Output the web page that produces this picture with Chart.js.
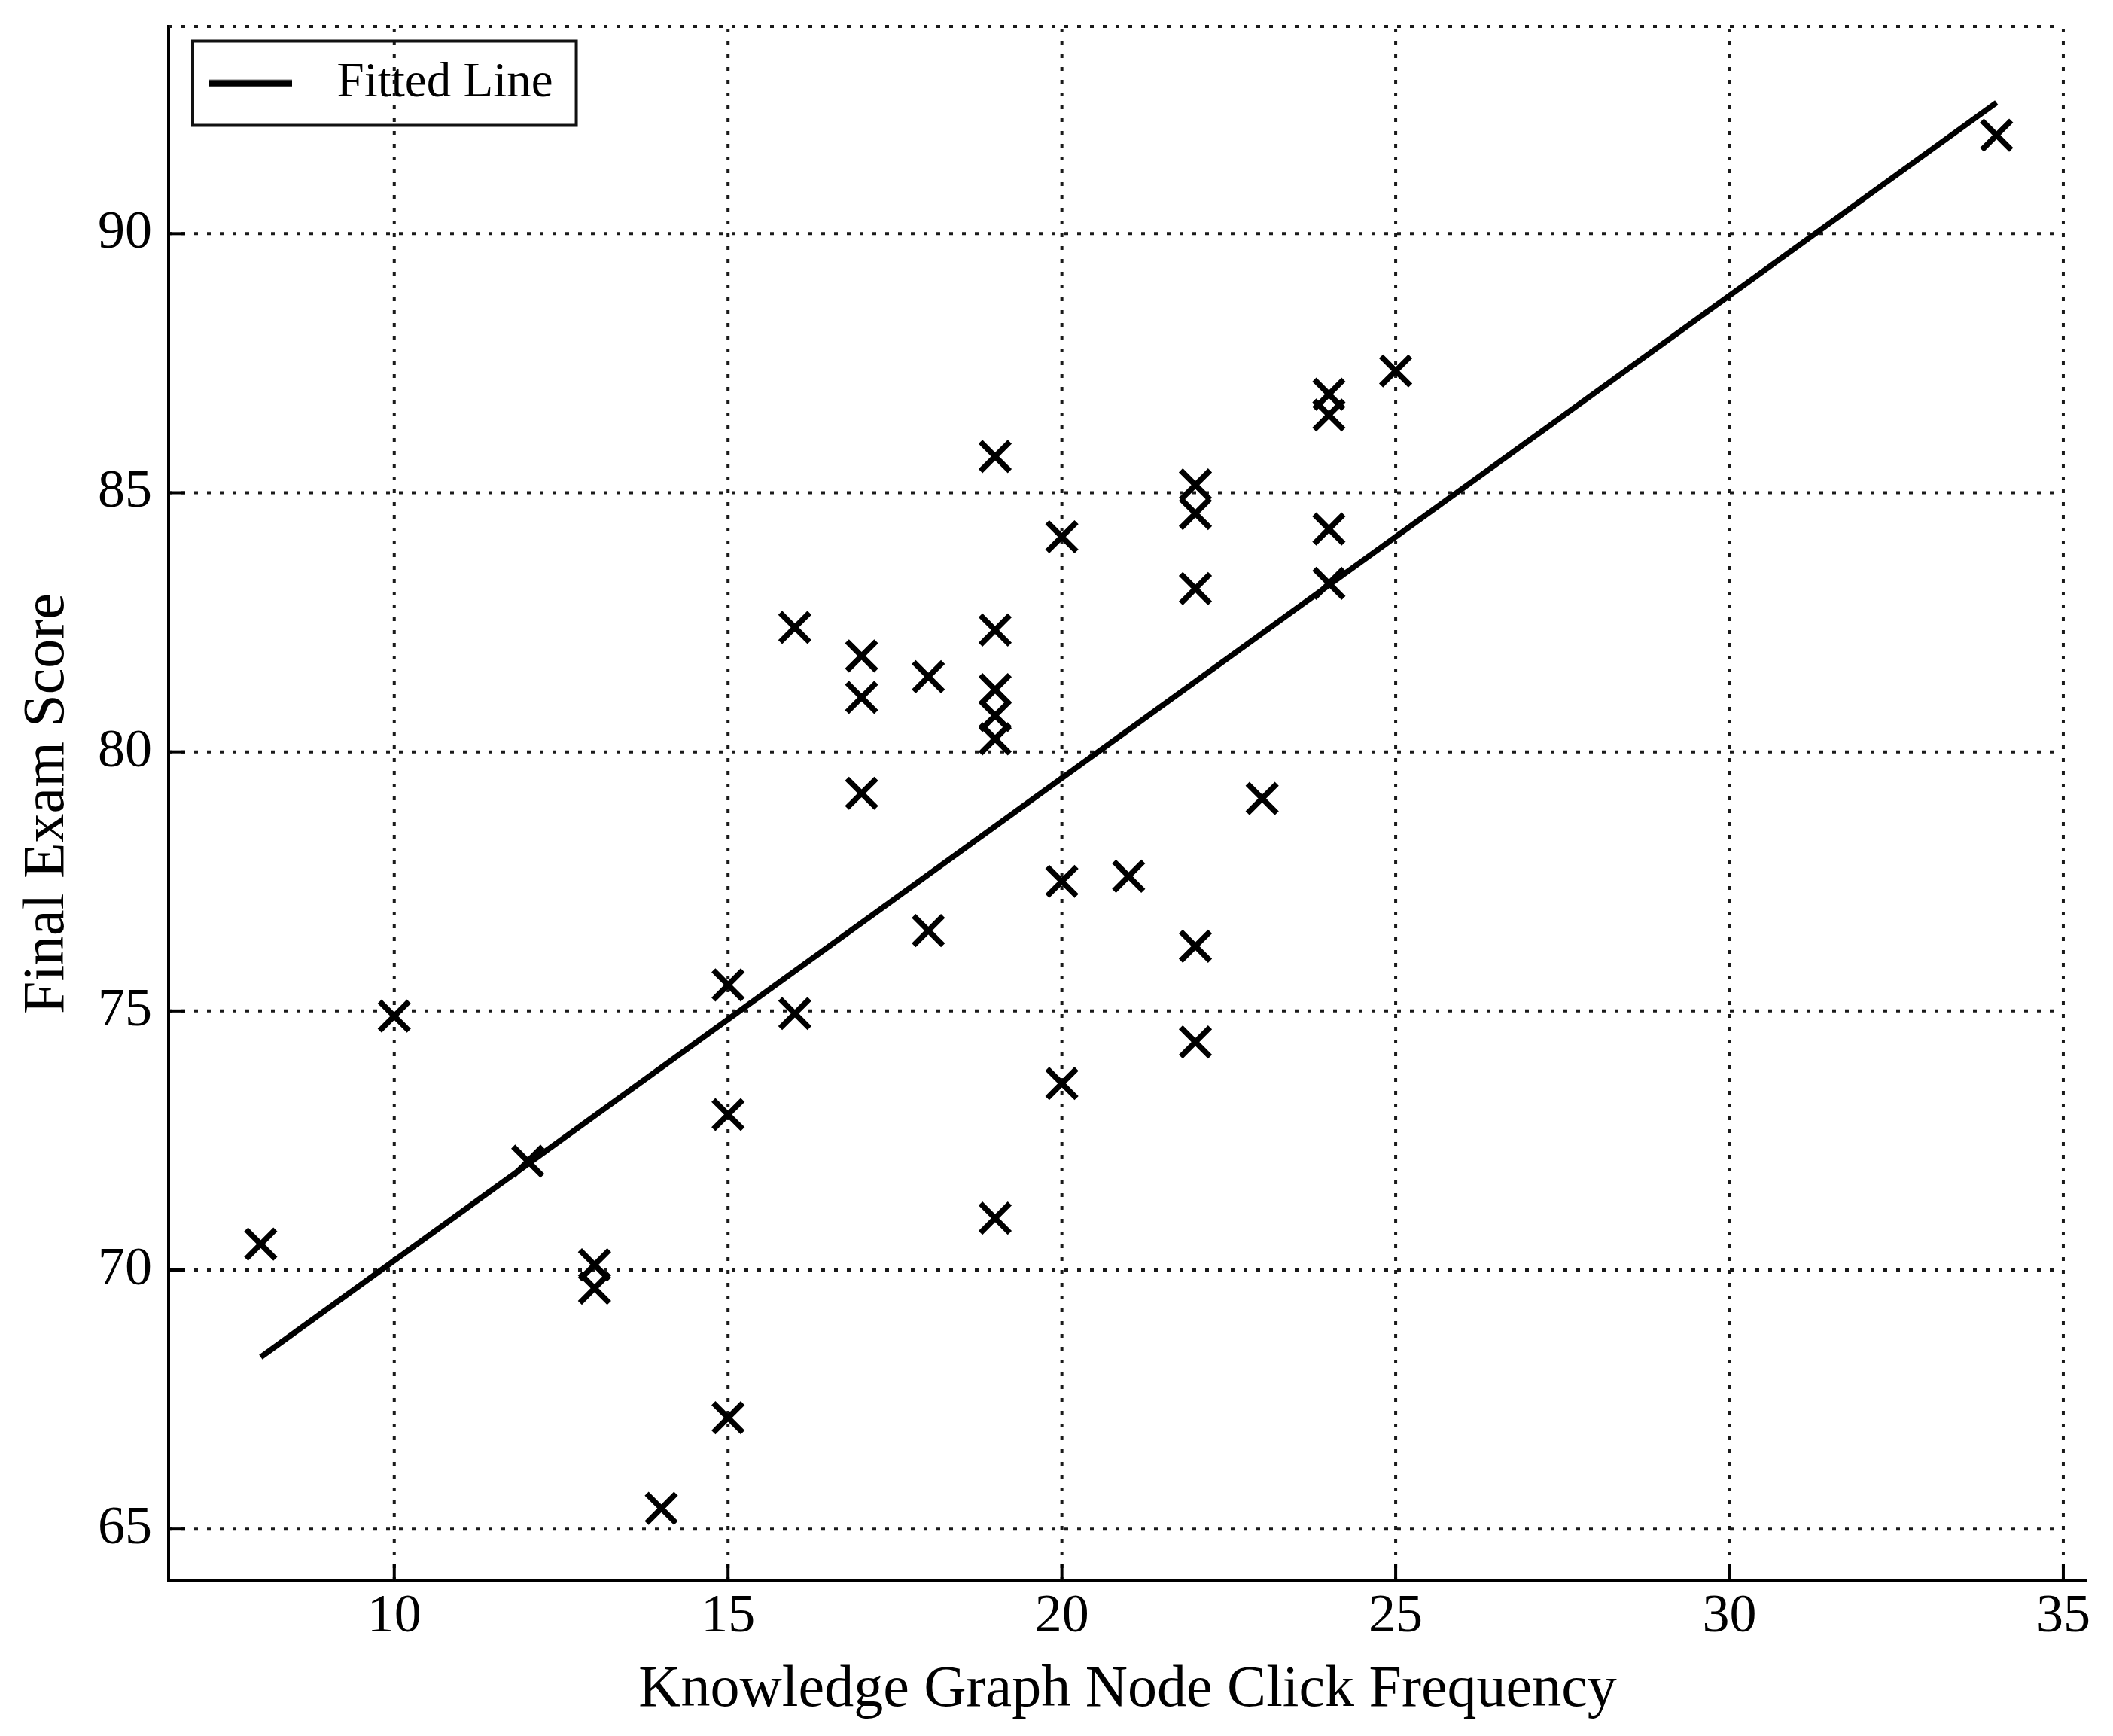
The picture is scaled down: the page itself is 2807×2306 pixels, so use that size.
<!DOCTYPE html>
<html>
<head>
<meta charset="utf-8">
<script src="https://cdn.jsdelivr.net/npm/chart.js@4/dist/chart.umd.min.js"></script>
<style>
  html, body { margin: 0; padding: 0; background: #ffffff; }
  #wrap { width: 2807px; height: 2306px; }
</style>
</head>
<body>
<div id="wrap"><canvas id="c" width="2807" height="2306"></canvas></div>
<script>
// ---- data ----
const clickFreq = [8, 10, 12, 13, 13, 14, 15, 15, 15, 16, 16, 17, 17, 17, 18, 18,
                   19, 19, 19, 19, 19, 19, 20, 20, 20, 21, 22, 22, 22, 22, 22, 23,
                   24, 24, 24, 24, 25, 34];
const examScore = [70.5, 74.9, 72.1, 70.1, 69.65, 65.4, 75.5, 73.0, 67.15, 82.4, 74.95, 81.85, 81.05, 79.2, 81.45, 76.55,
                   85.7, 82.35, 81.2, 80.7, 80.25, 71.0, 84.15, 77.5, 73.6, 77.6, 85.15, 84.6, 83.15, 76.25, 74.4, 79.1,
                   86.9, 86.5, 84.3, 83.25, 87.35, 91.9];
const fitX = [8, 34];
const fitY = [68.32, 92.53];
const xTicks = [10, 15, 20, 25, 30, 35];
const yTicks = [65, 70, 75, 80, 85, 90];
const xRange = [6.62, 35.35];
const yRange = [64, 94];
const xTitle = 'Knowledge Graph Node Click Frequency';
const yTitle = 'Final Exam Score';
const lineLabel = 'Fitted Line';

const FONT = "'Liberation Serif', 'Times New Roman', serif";

const scatterPts = clickFreq.map((v, i) => ({ x: v, y: examScore[i] }));
const fitPts = fitX.map((v, i) => ({ x: v, y: fitY[i] }));

// legend glyph: a short thick line drawn at the left of a wider transparent image
const legendGlyph = document.createElement('canvas');
legendGlyph.width = 163;
legendGlyph.height = 20;
(() => {
  const g = legendGlyph.getContext('2d');
  g.fillStyle = '#000';
  g.fillRect(0, 5.5, 111, 9);
})();

const gridPlugin = {
  id: 'matlabGrid',
  beforeDatasetsDraw(chart) {
    const { ctx, chartArea: a, scales: { x, y } } = chart;
    const xr = x.getPixelForValue(xTicks[xTicks.length - 1]);
    ctx.save();
    ctx.strokeStyle = '#1a1a1a';
    ctx.lineWidth = 4;
    ctx.setLineDash([5, 12]);
    const seg = (x1, y1, x2, y2) => { ctx.beginPath(); ctx.moveTo(x1, y1); ctx.lineTo(x2, y2); ctx.stroke(); };
    yTicks.forEach(v => { const p = y.getPixelForValue(v); seg(a.left, p, xr, p); });
    seg(a.left, y.getPixelForValue(yRange[1]), xr, y.getPixelForValue(yRange[1]));
    xTicks.forEach(v => { const p = x.getPixelForValue(v); seg(p, a.bottom, p, a.top); });
    ctx.setLineDash([]);
    ctx.strokeStyle = '#000';
    ctx.lineWidth = 4;
    yTicks.forEach(v => { const p = y.getPixelForValue(v); seg(a.left, p, a.left + 22, p); });
    xTicks.forEach(v => { const p = x.getPixelForValue(v); seg(p, a.bottom, p, a.bottom - 22); });
    ctx.restore();
  },
  afterDraw(chart) {
    const lg = chart.legend;
    if (!lg || !lg.legendHitBoxes || !lg.legendHitBoxes.length) return;
    const hb = lg.legendHitBoxes[0];
    const { ctx } = chart;
    ctx.save();
    ctx.strokeStyle = '#111';
    ctx.lineWidth = 4;
    const cy = hb.top + hb.height / 2;
    ctx.strokeRect(hb.left - 46, cy - 56, hb.width + 77, 112);
    ctx.restore();
  }
};

const noEdgePadding = (s) => { s.paddingTop = 0; s.paddingBottom = 0; s.paddingLeft = 0; s.paddingRight = 0; };

new Chart(document.getElementById('c'), {
  type: 'scatter',
  data: {
    datasets: [
      {
        label: 'Data',
        data: scatterPts,
        pointStyle: 'crossRot',
        pointRadius: 27.5,
        pointHoverRadius: 27.5,
        borderColor: '#000',
        backgroundColor: '#000',
        pointBorderWidth: 7.5,
        borderWidth: 7.5
      },
      {
        type: 'line',
        label: lineLabel,
        data: fitPts,
        showLine: true,
        pointRadius: 0,
        borderColor: '#000',
        backgroundColor: '#000',
        borderWidth: 7.5,
        fill: false
      }
    ]
  },
  options: {
    responsive: false,
    animation: false,
    devicePixelRatio: 1,
    layout: { padding: { top: 30, right: 35, left: 0, bottom: 0 } },
    plugins: {
      tooltip: { enabled: false },
      legend: {
        position: 'chartArea',
        align: 'start',
        labels: {
          filter: (item) => item.datasetIndex === 1,
          usePointStyle: true,
          pointStyle: legendGlyph,
          pointStyleWidth: 113,
          padding: 78,
          color: '#000',
          font: { family: FONT, size: 65 }
        }
      }
    },
    scales: {
      x: {
        type: 'linear',
        min: xRange[0],
        max: xRange[1],
        afterBuildTicks: (s) => { s.ticks = xTicks.map(v => ({ value: v })); },
        afterFit: (s) => { s.height = 206; noEdgePadding(s); },
        grid: { drawOnChartArea: false, drawTicks: false },
        border: { display: true, color: '#000', width: 4 },
        ticks: { color: '#000', padding: 5, maxRotation: 0, font: { family: FONT, size: 72, lineHeight: 1.2 } },
        title: {
          display: true, text: xTitle, color: '#000',
          font: { family: FONT, size: 78, lineHeight: 1.2 },
          padding: { top: 0, bottom: 14 }
        }
      },
      y: {
        type: 'linear',
        min: yRange[0],
        max: yRange[1],
        afterBuildTicks: (s) => { s.ticks = yTicks.map(v => ({ value: v })); },
        afterFit: (s) => { s.width = 224; noEdgePadding(s); },
        grid: { drawOnChartArea: false, drawTicks: false },
        border: { display: true, color: '#000', width: 4 },
        ticks: { color: '#000', padding: 22, font: { family: FONT, size: 72, lineHeight: 1.2 } },
        title: {
          display: true, text: yTitle, color: '#000',
          font: { family: FONT, size: 78, lineHeight: 1.2 },
          padding: { top: 17, bottom: 0 }
        }
      }
    }
  },
  plugins: [gridPlugin]
});
</script>
</body>
</html>
